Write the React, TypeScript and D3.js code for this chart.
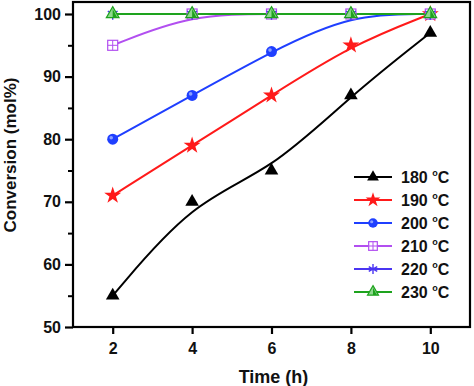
import React, { useEffect, useRef } from 'react';
import * as d3 from 'd3';

// Reaction time (h)
const times = [2, 4, 6, 8, 10];

// Conversion (mol%) per temperature
const conv180 = [55, 70, 75, 87, 97];
const conv190 = [71, 79, 87, 95, 100];
const conv200 = [80, 87, 94, 100, 100];
const conv210 = [95, 100, 100, 100, 100];
const conv220 = [100, 100, 100, 100, 100];
const conv230 = [100, 100, 100, 100, 100];

const seriesNames = ['180', '190', '200', '210', '220', '230'];
const xTicks = [2, 4, 6, 8, 10];
const yTicks = [50, 60, 70, 80, 90, 100];
const yMinorTicks = [55, 65, 75, 85, 95];

const App: React.FC = () => {
  const ref = useRef<SVGSVGElement>(null);

  useEffect(() => {
    const W = 474;
    const H = 386;
    const left = 73, right = 470, top = 2, bottom = 327;

    const svg = d3.select(ref.current).attr('width', W).attr('height', H);
    svg.selectAll('*').remove();

    const x = d3.scaleLinear().domain([1, 11]).range([left, right]);
    const y = d3.scaleLinear().domain([50, 100]).range([bottom, 14]);

    const font = 'Liberation Sans, Arial, sans-serif';

    const styles = [
      { data: conv180, color: '#000000', marker: 'triangle' },
      { data: conv190, color: '#ff1a1a', marker: 'star' },
      { data: conv200, color: '#1f3fff', marker: 'circle' },
      { data: conv210, color: '#b24ff0', marker: 'squarePlus' },
      { data: conv220, color: '#4a35f2', marker: 'asterisk' },
      { data: conv230, color: '#1ea31e', marker: 'triangleGreen' },
    ];

    const drawMarker = (g: any, kind: string, color: string, cx: number, cy: number, k = 1) => {
      if (kind === 'triangle') {
        g.append('path').attr('d', d3.symbol(d3.symbolTriangle, 80 * k)())
          .attr('transform', `translate(${cx},${cy})`).attr('fill', color);
      } else if (kind === 'triangleGreen') {
        g.append('path').attr('d', d3.symbol(d3.symbolTriangle, 70 * k)())
          .attr('transform', `translate(${cx},${cy})`)
          .attr('fill', '#8fd88f').attr('stroke', color).attr('stroke-width', 1.2);
        g.append('path').attr('d', 'M0,-5 L4.5,3.5 L0,3.5 Z')
          .attr('transform', `translate(${cx},${cy}) scale(${Math.sqrt(k)})`).attr('fill', color);
      } else if (kind === 'star') {
        g.append('path').attr('d', d3.symbol(d3.symbolStar, 90 * k)())
          .attr('transform', `translate(${cx},${cy})`).attr('fill', color);
      } else if (kind === 'circle') {
        const r = 5.5 * Math.sqrt(k);
        g.append('circle').attr('cx', cx).attr('cy', cy).attr('r', r).attr('fill', color);
        g.append('circle').attr('cx', cx - r * 0.27).attr('cy', cy - r * 0.27).attr('r', r * 0.33).attr('fill', '#8aa0ff');
      } else if (kind === 'squarePlus') {
        const h = 5 * Math.sqrt(k);
        g.append('rect').attr('x', cx - h).attr('y', cy - h).attr('width', 2 * h).attr('height', 2 * h)
          .attr('fill', 'white').attr('stroke', color).attr('stroke-width', 1.2);
        g.append('path').attr('d', `M${cx - h},${cy} H${cx + h} M${cx},${cy - h} V${cy + h}`)
          .attr('stroke', color).attr('stroke-width', 1);
      } else if (kind === 'asterisk') {
        const sym = (d3 as any).symbolAsterisk || d3.symbolCross;
        g.append('path').attr('d', d3.symbol(sym, 90 * k)())
          .attr('transform', `translate(${cx},${cy})`)
          .attr('fill', 'none').attr('stroke', color).attr('stroke-width', 1.4);
      }
    };

    const line = d3.line<number>()
      .x((_, i) => x(times[i]))
      .y(d => y(d))
      .curve(d3.curveBasis);

    const plot = svg.append('g');
    styles.forEach(s => {
      plot.append('path').attr('d', line(s.data)).attr('fill', 'none')
        .attr('stroke', s.color).attr('stroke-width', 2);
    });
    styles.forEach(s => {
      s.data.forEach((v, i) => drawMarker(plot, s.marker, s.color, x(times[i]), y(v)));
    });

    // Frame
    svg.append('rect').attr('x', left).attr('y', top)
      .attr('width', right - left).attr('height', bottom - top)
      .attr('fill', 'none').attr('stroke', '#000').attr('stroke-width', 2.2);

    // X axis
    const xAxis = svg.append('g').attr('transform', `translate(0,${bottom})`)
      .call(d3.axisBottom(x).tickValues(xTicks).tickSize(7).tickPadding(9).tickFormat(d3.format('d')));
    xAxis.select('.domain').remove();
    xAxis.selectAll('line').attr('stroke-width', 2.2);
    xAxis.selectAll('text').attr('font-family', font).attr('font-size', 16)
      .attr('font-weight', 'bold').attr('fill', '#111');

    // Y axis
    const yAxis = svg.append('g').attr('transform', `translate(${left},0)`)
      .call(d3.axisLeft(y).tickValues(yTicks).tickSize(8).tickPadding(4).tickFormat(d3.format('d')));
    yAxis.select('.domain').remove();
    yAxis.selectAll('line').attr('stroke-width', 2.2);
    yAxis.selectAll('text').attr('font-family', font).attr('font-size', 16)
      .attr('font-weight', 'bold').attr('fill', '#111');

    const yMinor = svg.append('g').attr('transform', `translate(${left},0)`)
      .call(d3.axisLeft(y).tickValues(yMinorTicks).tickSize(5).tickFormat(() => ''));
    yMinor.select('.domain').remove();
    yMinor.selectAll('line').attr('stroke-width', 2);

    // Axis titles
    svg.append('text').attr('transform', 'translate(16,155) rotate(-90)')
      .attr('text-anchor', 'middle').attr('font-family', font).attr('font-size', 17)
      .attr('font-weight', 'bold').attr('fill', '#111').text('Conversion (mol%)');
    svg.append('text').attr('x', (left + right) / 2 + 2).attr('y', 383)
      .attr('text-anchor', 'middle').attr('font-family', font).attr('font-size', 18)
      .attr('font-weight', 'bold').attr('fill', '#111').text('Time (h)');

    // Legend
    const legend = svg.append('g');
    const legendY = d3.scalePoint<string>().domain(seriesNames).range([177, 292]);
    styles.forEach((s, i) => {
      const ly = legendY(seriesNames[i]) as number;
      legend.append('line').attr('x1', 354).attr('x2', 392).attr('y1', ly).attr('y2', ly)
        .attr('stroke', s.color).attr('stroke-width', 2);
      drawMarker(legend, s.marker, s.color, 373, ly, 0.75);
      const t = legend.append('text').attr('x', 401).attr('y', ly + 6)
        .attr('font-family', font).attr('font-size', 16).attr('font-weight', 'bold').attr('fill', '#111');
      t.append('tspan').text(`${seriesNames[i]} `);
      t.append('tspan').attr('font-size', 9).attr('dy', -7).text('o');
      t.append('tspan').attr('dy', 7).text('C');
    });
  }, []);

  return (
    <div>
      <svg ref={ref} style={{ position: 'absolute', left: 0, top: 0, background: '#fff' }}></svg>
    </div>
  );
};

export default App;
